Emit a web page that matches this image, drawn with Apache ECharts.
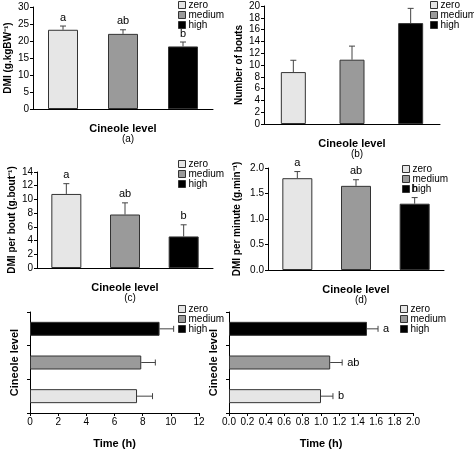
<!DOCTYPE html><html><head><meta charset="utf-8">
<script src="https://cdn.jsdelivr.net/npm/echarts@6/dist/echarts.min.js"></script>
<style>html,body{margin:0;padding:0;background:#fff}#c{width:474px;height:451px}</style></head><body><div id="c"></div>
<script>
const levels = ['zero','medium','high'];
const colors = ['#e6e6e6','#9a9a9a','#000000'];
const aVals = [23.3,22.1,18.4], aErr = [1.1,1.2,1.3], aLet = ['a','ab','b'];
const bVals = [8.8,10.9,17.1], bErr = [2.0,2.3,2.5], bLet = ['','',''];
const cVals = [10.8,7.8,4.6], cErr = [1.5,1.7,1.7], cLet = ['a','ab','b'];
const dVals = [1.80,1.65,1.30], dErr = [0.13,0.12,0.12], dLet = ['a','ab','b'];
const eVals = [7.6,7.9,9.2], eErr = [1.1,1.0,1.0], eLet = ['','',''];
const fVals = [1.0,1.1,1.5], fErr = [0.13,0.13,0.12], fLet = ['b','ab','a'];
const F = 'Liberation Sans';

const panels = [
 {v:aVals,e:aErr,l:aLet,hor:false,grid:{left:33,top:7,width:180,height:102},max:30,int:5,name:'DMI (g.kgBW\u207B\u00B9)',lab:'(a)',lg:[178,0],fmt:null,bw:30},
 {v:bVals,e:bErr,l:bLet,hor:false,grid:{left:264,top:6,width:176,height:118},max:20,int:2,name:'Number of bouts',lab:'(b)',lg:[430,0],fmt:null,bw:25},
 {v:cVals,e:cErr,l:cLet,hor:false,grid:{left:37,top:172,width:176,height:96},max:14,int:2,name:'DMI per bout (g.bout\u207B\u00B9)',lab:'(c)',lg:[178,159],fmt:null,bw:30},
 {v:dVals,e:dErr,l:dLet,hor:false,grid:{left:268,top:168,width:176,height:102},max:2,int:0.5,name:'DMI per minute (g.min\u207B\u00B9)',lab:'(d)',lg:[402,164],fmt:v=>v.toFixed(1),bw:30},
 {v:eVals,e:eErr,l:eLet,hor:true,grid:{left:30,top:312,width:169,height:101},max:12,int:2,name:'Time (h)',lab:'(e)',lg:[178,304],fmt:null,bw:14},
 {v:fVals,e:fErr,l:fLet,hor:true,grid:{left:229,top:312,width:184,height:101},max:2,int:0.2,name:'Time (h)',lab:'(f)',lg:[400,304],fmt:v=>v.toFixed(1),bw:14}
];

const grid=[],xAxis=[],yAxis=[],series=[],legend=[],title=[];
const axLine={lineStyle:{color:'#000',width:1}};
panels.forEach((p,i)=>{
  grid.push(p.grid);
  const valAx={type:'value',gridIndex:i,min:0,max:p.max,interval:p.int,splitLine:{show:false},axisLine:{show:true,...axLine},axisTick:{show:true,inside:false,length:3,lineStyle:{color:'#000'}},axisLabel:{fontFamily:F,fontSize:10,color:'#000',formatter:p.fmt||undefined,margin:4}};
  const catAx={type:'category',gridIndex:i,data:levels,axisLine:axLine,axisTick:{show:p.hor,length:3,lineStyle:{color:'#000'}},axisLabel:{show:false}};
  if(!p.hor){
    xAxis.push({...catAx,name:'Cineole level',nameLocation:'middle',nameGap:14,nameTextStyle:{fontFamily:F,fontSize:11,fontWeight:'bold',color:'#000'}});
    yAxis.push({...valAx,name:p.name,nameLocation:'middle',nameGap:i==3?26:20,nameTextStyle:{fontFamily:F,fontSize:10,fontWeight:'bold',color:'#000'}});
  } else {
    xAxis.push({...valAx,name:p.name,nameLocation:'middle',nameGap:25,nameTextStyle:{fontFamily:F,fontSize:11,fontWeight:'bold',color:'#000'}});
    yAxis.push({...catAx,name:'Cineole level',nameLocation:'middle',nameGap:10,nameTextStyle:{fontFamily:F,fontSize:11,fontWeight:'bold',color:'#000'}});
  }
  levels.forEach((lv,k)=>{
    series.push({type:'bar',name:lv,xAxisIndex:i,yAxisIndex:i,stack:'s'+i,barWidth:p.bw,
      itemStyle:{color:colors[k],borderColor:'#333',borderWidth:1},
      data:p.v.map((v,j)=>j===k?v:'-')});
  });
  series.push({type:'custom',xAxisIndex:i,yAxisIndex:i,z:1,
    data:p.v.map((v,j)=>[j,v,p.e[j]]),
    renderItem:(params,api)=>{
      const j=api.value(0),v=api.value(1),e=api.value(2);
      let s,t,cap,txt;
      if(!p.hor){
        s=api.coord([j,v]);t=api.coord([j,v+e]);
        cap={shape:{x1:t[0]-3,y1:t[1],x2:t[0]+3,y2:t[1]}};
        txt={x:t[0],y:t[1]-3,align:'center',verticalAlign:'bottom'};
      } else {
        s=api.coord([v,j]);t=api.coord([v+e,j]);
        cap={shape:{x1:t[0],y1:t[1]-3,x2:t[0],y2:t[1]+3}};
        txt={x:t[0]+5,y:t[1],align:'left',verticalAlign:'middle'};
      }
      const st={stroke:'#444',lineWidth:1};
      const ch=[{type:'line',shape:{x1:s[0],y1:s[1],x2:t[0],y2:t[1]},style:st},{type:'line',shape:cap.shape,style:st}];
      if(p.l[j]) ch.push({type:'text',style:{text:p.l[j],x:txt.x,y:txt.y,align:txt.align,verticalAlign:txt.verticalAlign,fontFamily:F,fontSize:11,fill:'#000'}});
      return {type:'group',children:ch};
    }});
  legend.push({data:levels,left:p.lg[0],top:p.lg[1],orient:'vertical',itemGap:0,itemWidth:7,itemHeight:7,icon:'rect',selectedMode:false,
    textStyle:{fontFamily:F,fontSize:10,color:'#000',padding:[0,0,0,-2]},padding:0,
    itemStyle:{borderColor:'#333',borderWidth:1}});
  title.push({text:p.lab,left:p.grid.left+p.grid.width/2-(p.hor?0:0),top:p.grid.top+p.grid.height+(p.hor?33:20),textAlign:'center',textStyle:{fontFamily:F,fontSize:10,fontWeight:'normal',color:'#000'}});
});
const chart=echarts.init(document.getElementById('c'));
chart.setOption({animation:false,grid,xAxis,yAxis,series,legend,title});
</script></body></html>
